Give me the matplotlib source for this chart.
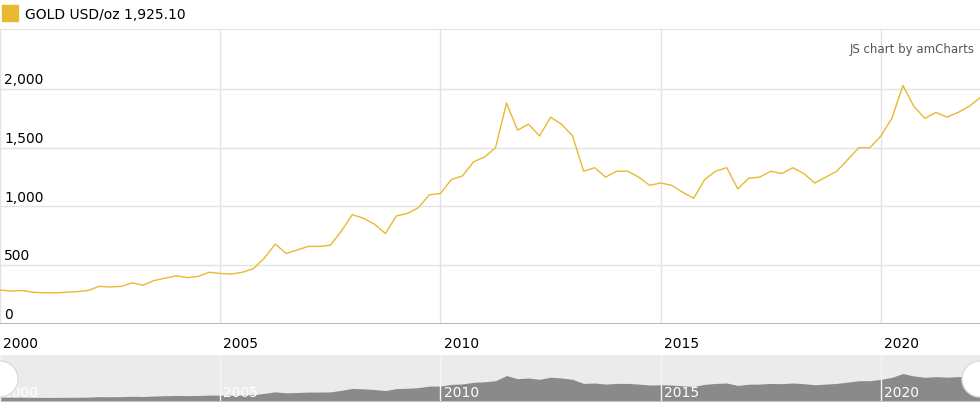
import numpy as np
import matplotlib.pyplot as plt
from matplotlib.patches import Rectangle, Ellipse

# quarterly gold price, USD/oz
price = [290, 280, 285, 270, 265, 265, 270, 275, 285, 320, 315, 320,
         350, 330, 370, 390, 410, 395, 405, 440, 430, 425, 440, 470,
         560, 680, 600, 630, 660, 660, 670, 790, 930, 900, 850, 770,
         920, 940, 990, 1100, 1110, 1230, 1260, 1380, 1420, 1500, 1880, 1650,
         1700, 1600, 1760, 1700, 1600, 1300, 1330, 1250, 1300, 1300, 1250, 1180,
         1200, 1180, 1120, 1070, 1230, 1300, 1330, 1150, 1240, 1250, 1300, 1280,
         1330, 1280, 1200, 1250, 1300, 1400, 1500, 1500, 1600, 1750, 2030, 1850,
         1750, 1800, 1760, 1800, 1850, 1925.10]
years = 2000 + 0.25 * np.arange(len(price))
tick_years = [2000, 2005, 2010, 2015, 2020]
y_ticks = [0, 500, 1000, 1500, 2000]

fig = plt.figure(figsize=(9.8, 4.1), dpi=100)
gold = "#e8b931"
x_max = years[-1]

ax = fig.add_axes([0, 85 / 410, 1, 295 / 410])
ax.plot(years, price, color=gold, lw=1)
ax.set_xlim(2000, x_max)
ax.set_ylim(0, 2510)
for y in y_ticks:
    ax.axhline(y, color="#e3e3e3", lw=1, zorder=0)
    ax.text(2000.1, y + 25, f"{y:,}", fontsize=10, va="bottom", ha="left")
for t in tick_years:
    ax.axvline(t, color="#e3e3e3", lw=1, zorder=0)
    ax.text(t + 0.07, -100, str(t), fontsize=10, va="top", ha="left")
ax.axhline(0, color="#bbbbbb", lw=1.5)
ax.set_xticks([]); ax.set_yticks([])
for s in ax.spines.values():
    s.set_visible(False)
ax.spines["top"].set_visible(True); ax.spines["top"].set_color("#e3e3e3")
ax.text(0.995, 0.955, "JS chart by amCharts", transform=ax.transAxes,
        ha="right", va="top", fontsize=8.5, color="#555555")

# legend
fig.add_artist(Rectangle((2 / 980, 1 - 22 / 410), 16 / 980, 16 / 410,
                         transform=fig.transFigure, color=gold))
fig.text(25 / 980, 1 - 15 / 410, "GOLD USD/oz 1,925.10", fontsize=10, va="center")

# scrollbar
sc = fig.add_axes([0, 8 / 410, 1, 46 / 410])
sc.set_facecolor("#ebebeb")
sc.fill_between(years, price, color="#8a8a8a", lw=0)
sc.set_xlim(2000, x_max)
sc.set_ylim(0, 3400)
for t in tick_years:
    sc.axvline(t, color="#f5f5f5", lw=1)
    sc.text(t + 0.07, 150, str(t), fontsize=10, color="white", va="bottom")
sc.set_xticks([]); sc.set_yticks([])
for s in sc.spines.values():
    s.set_visible(False)
for cx in (0, 980):
    fig.add_artist(Ellipse((cx / 980, 1 - 380 / 410), 36 / 980, 36 / 410,
                           transform=fig.transFigure, facecolor="white",
                           edgecolor="#dddddd", zorder=5))
fig.savefig("out.png", dpi=100)
